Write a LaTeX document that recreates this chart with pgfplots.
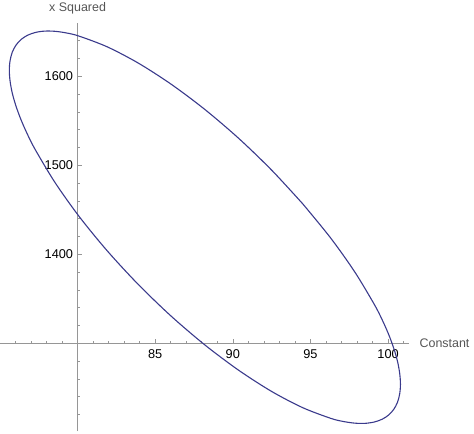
\documentclass[border=0pt]{standalone}
\usepackage{pgfplots}
\pgfplotsset{compat=1.18}
\usepackage{fontspec}
\setmainfont{Liberation Sans}
\definecolor{curve}{RGB}{58,58,140}
\definecolor{axgray}{RGB}{150,150,150}
\definecolor{labgray}{RGB}{85,85,85}
\begin{document}
\begin{tikzpicture}[font=\fontsize{12.5}{14}\selectfont]
\begin{axis}[
  scale only axis, width=409bp, height=408bp,
  x coord trafo/.code={\pgfmathparse{#1-80}},
  x coord inv trafo/.code={\pgfmathparse{#1+80}},
  y coord trafo/.code={\pgfmathparse{#1-1300}},
  y coord inv trafo/.code={\pgfmathparse{#1+1300}},
  xmin=75, xmax=101.35, ymin=1201.5, ymax=1660,
  axis lines=middle,
  axis line style={axgray, line width=0.8bp, -},
  xtick={80,85,90,95,100}, xticklabels={,85,90,95,100},
  ytick={1300,1400,1500,1600}, yticklabels={,1400,1500,1600},
  minor xtick={76,77,78,79,81,82,83,84,86,87,88,89,91,92,93,94,96,97,98,99,101},
  minor ytick={1220,1240,1260,1280,1320,1340,1360,1380,1420,1440,1460,1480,1520,1540,1560,1580,1620,1640},
  tick align=inside,
  major tick length=4bp, minor tick length=2.5bp,
  tick style={axgray, line width=0.6bp},
  /pgf/number format/assume math mode=true,
  every tick label/.append style={font=\fontsize{12.8}{14}\selectfont, text=black},
  xticklabel style={font=\fontsize{12.8}{14}\selectfont, anchor=north, yshift=-3bp},
  yticklabel style={font=\fontsize{12.8}{14}\selectfont, anchor=east, xshift=-1bp},
  xlabel={Constant}, ylabel={x Squared},
  label style={font=\fontsize{12.5}{14}\selectfont, text=labgray},
  xlabel style={at={(current axis.right of origin)}, anchor=west, xshift=7bp},
  ylabel style={at={(current axis.above origin)}, anchor=south, rotate=0, yshift=5bp},
  clip=false,
]
\addplot[curve, line width=1.1bp, smooth] coordinates {
(94.50,1456.87) (92.51,1494.49) (90.39,1530.17) (88.20,1562.80)
(86.01,1591.41) (83.89,1615.15) (81.90,1633.27) (80.10,1645.23) (79.29,1648.78)
(78.55,1650.66) (77.88,1650.90) (77.29,1649.41) (76.78,1646.28) (76.36,1641.51)
(76.03,1635.12) (75.79,1627.19) (75.65,1617.77) (75.60,1606.90) (75.65,1594.69)
(75.79,1581.25) (76.03,1566.64) (76.36,1551.01) (76.78,1534.46) (77.29,1517.11)
(78.55,1480.58) (80.10,1442.55) (81.90,1404.13)
(83.89,1366.51) (86.01,1330.83) (88.20,1298.20) (90.39,1269.59) (92.51,1245.85)
(94.50,1227.73) (96.30,1215.77) (97.11,1212.22) (97.85,1210.34) (98.52,1210.10)
(99.11,1211.59) (99.62,1214.72) (100.04,1219.49) (100.37,1225.88)
(100.61,1233.81) (100.75,1243.23) (100.80,1254.10) (100.75,1266.31) (100.61,1279.75)
(100.37,1294.36) (100.04,1309.99) (99.62,1326.54) (99.11,1343.89)
(97.85,1380.42) (96.30,1418.45) (94.50,1456.87)
};
\end{axis}
\pgfresetboundingbox
\path[use as bounding box] ([yshift=-3bp]current axis.south west) rectangle ([xshift=65bp,yshift=23bp]current axis.north east);
\end{tikzpicture}
\end{document}
